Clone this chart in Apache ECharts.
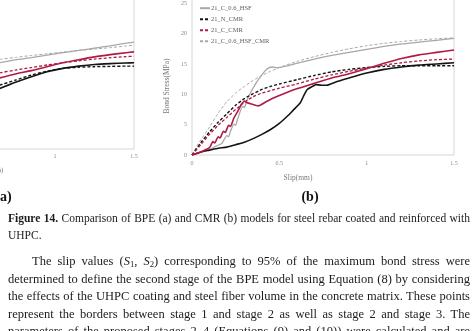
<!DOCTYPE html>
<html>
<head>
<meta charset="utf-8">
<script src="https://cdn.jsdelivr.net/npm/echarts@6/dist/echarts.min.js"></script>
<style>
  html, body { margin: 0; padding: 0; background: #fff; }
  body { width: 474px; height: 331px; overflow: hidden; position: relative; }
  #chart { position: absolute; left: 0; top: 0; width: 474px; height: 331px; }
  .line { position: absolute; left: 8px; width: 462px; height: 18px; line-height: 18px;
          font-family: "Liberation Serif", serif; color: #1c1c1c; white-space: nowrap; }
  .line sub { font-size: 0.7em; line-height: 0; vertical-align: -0.25em; }
</style>
</head>
<body>
<div id="chart"></div>
<div id="caption"></div>
<script>
// Series names (legend order)
const seriesNames = ['21_N', '21_C', '21_C_0.6_HSF', '21_N_CMR', '21_C_CMR', '21_C_0.6_HSF_CMR'];
const bpeNames = ['21_N', '21_N_BPE', '21_C', '21_C_BPE', '21_C_0.6_HSF', '21_C_0.6_HSF_BPE'];

// Axis ticks (slip in mm, bond stress in MPa)
const slipTicks = [0, 0.5, 1, 1.5];
const stressTicks = [0, 5, 10, 15, 20, 25];

// (a) BPE model comparison, right-hand part of the slip range
const bpeSlip = [0.65, 0.75, 0.85, 0.95, 1.05, 1.15, 1.25, 1.35, 1.45, 1.5];
const bpeTestN      = [10.8, 11.9, 12.9, 13.8, 14.4, 14.8, 15.1, 15.25, 15.35, 15.4];
const bpeModelN     = [11.4, 12.3, 13.2, 13.9, 14.4, 14.6, 14.7, 14.75, 14.8, 14.8];
const bpeTestC      = [12.7, 13.4, 14.0, 14.7, 15.4, 15.95, 16.45, 16.85, 17.2, 17.35];
const bpeModelC     = [13.6, 14.1, 14.55, 15.0, 15.4, 15.75, 16.05, 16.3, 16.5, 16.55];
const bpeTestHSF    = [15.4, 15.9, 16.3, 16.75, 17.2, 17.6, 18.0, 18.4, 18.9, 19.1];
const bpeModelHSF   = [16.0, 16.35, 16.7, 17.0, 17.3, 17.6, 17.85, 18.1, 18.4, 18.55];

// (b) CMR model comparison: [slip, stress]
const cmrTestN = [[0,0],[0.05,0.5],[0.1,0.8],[0.15,1.1],[0.2,1.3],[0.25,1.7],[0.3,2.1],[0.35,2.7],
  [0.4,3.4],[0.45,4.2],[0.5,5.2],[0.55,6.5],[0.58,7.4],[0.62,8.6],[0.64,9.8],[0.66,10.8],[0.69,11.3],
  [0.71,11.6],[0.74,11.5],[0.77,11.5],[0.83,12.1],[0.9,12.7],[1.0,13.5],[1.1,14.1],[1.2,14.5],
  [1.3,14.8],[1.4,15.0],[1.5,15.2]];
const cmrTestC = [[0,0],[0.05,0.5],[0.1,1.2],[0.12,2.2],[0.13,2.0],[0.15,3.0],[0.16,2.8],[0.18,3.9],
  [0.19,3.7],[0.21,4.9],[0.22,4.7],[0.24,6.1],[0.26,7.1],[0.28,8.2],[0.3,8.9],[0.31,8.7],[0.34,8.4],
  [0.38,8.1],[0.42,8.7],[0.46,9.3],[0.5,9.8],[0.6,10.9],[0.7,11.8],[0.8,12.7],[0.9,13.4],[1.0,14.2],
  [1.1,15.1],[1.2,15.9],[1.3,16.5],[1.4,16.9],[1.5,17.3]];
const cmrTestHSF = [[0,0],[0.05,0.4],[0.1,0.9],[0.14,1.5],[0.17,1.9],[0.2,3.2],[0.21,3.0],[0.22,3.9],
  [0.24,5.1],[0.25,4.9],[0.26,5.8],[0.29,8.0],[0.3,7.8],[0.31,8.6],[0.33,10.0],[0.37,12.0],[0.4,13.2],
  [0.43,14.2],[0.46,14.5],[0.49,14.4],[0.53,14.6],[0.6,15.1],[0.7,15.8],[0.8,16.4],[0.9,16.9],
  [1.0,17.4],[1.1,17.9],[1.2,18.3],[1.3,18.6],[1.4,18.9],[1.5,19.2]];
const cmrModelN = [[0,0],[0.05,2.0],[0.1,3.8],[0.15,5.4],[0.2,6.8],[0.25,8.2],[0.3,9.3],[0.35,10.1],
  [0.4,10.8],[0.45,11.3],[0.5,11.7],[0.6,12.4],[0.7,13.1],[0.8,13.7],[0.9,14.1],[1.0,14.4],[1.1,14.6],
  [1.2,14.7],[1.3,14.7],[1.4,14.7],[1.5,14.7]];
const cmrModelC = [[0,0],[0.05,1.7],[0.1,3.4],[0.15,4.9],[0.2,6.2],[0.25,7.5],[0.3,8.7],[0.35,9.6],
  [0.4,10.2],[0.45,10.6],[0.5,11.0],[0.6,11.7],[0.7,12.5],[0.8,13.2],[0.9,13.8],[1.0,14.3],[1.1,14.8],
  [1.2,15.2],[1.3,15.5],[1.4,15.7],[1.5,15.8]];
const cmrModelHSF = [[0,0],[0.03,1.6],[0.065,3.1],[0.1,4.6],[0.15,6.9],[0.2,8.8],[0.25,10.2],[0.3,11.3],
  [0.35,12.3],[0.4,13.1],[0.45,13.8],[0.5,14.4],[0.6,15.4],[0.7,16.2],[0.8,16.9],[0.9,17.5],[1.0,18.0],
  [1.1,18.4],[1.2,18.7],[1.3,18.95],[1.4,19.15],[1.5,19.3]];

// Caption and body text, one entry per printed line
const captionLines = [
  '<b>Figure 14.</b> Comparison of BPE (a) and CMR (b) models for steel rebar coated and reinforced with',
  'UHPC.'
];
const bodyLines = [
  'The slip values (<i>S</i><sub>1</sub>, <i>S</i><sub>2</sub>) corresponding to 95% of the maximum bond stress were',
  'determined to define the second stage of the BPE model using Equation (8) by considering',
  'the effects of the UHPC coating and steel fiber volume in the concrete matrix. These points',
  'represent the borders between stage 1 and stage 2 as well as stage 2 and stage 3. The',
  'parameters of the proposed stages 2–4 (Equations (9) and (10)) were calculated and are'
];

const GREY = '#a8a8a8', BLACK = '#141414', RED = '#b11a44';
const styles = [
  { color: BLACK, width: 1.6, type: 'solid' },
  { color: RED, width: 1.6, type: 'solid' },
  { color: GREY, width: 1.3, type: 'solid' },
  { color: BLACK, width: 1.4, type: [3, 2] },
  { color: RED, width: 1.3, type: [3, 2] },
  { color: GREY, width: 1.0, type: [3, 2] }
];
const zOrder = [3, 4, 2, 3, 3, 1];

const pair = (xs, ys) => xs.map((x, i) => [x, ys[i]]);
const bpeData = [
  pair(bpeSlip, bpeTestN), pair(bpeSlip, bpeModelN),
  pair(bpeSlip, bpeTestC), pair(bpeSlip, bpeModelC),
  pair(bpeSlip, bpeTestHSF), pair(bpeSlip, bpeModelHSF)
];
// test curves solid, model curves dashed
const bpeStyle = [styles[0], styles[3], styles[1], styles[4], styles[2], styles[5]];
const cmrData = [cmrTestN, cmrTestC, cmrTestHSF, cmrModelN, cmrModelC, cmrModelHSF];

const axisFont = { fontFamily: 'Liberation Serif', fontSize: 6, color: '#8a8a8a' };
const tickFmt = v => (slipTicks.indexOf(v) >= 0 ? String(v) : '');

function lineSeries(name, data, st, xi, z) {
  return {
    type: 'line', name: name, data: data, xAxisIndex: xi, yAxisIndex: xi,
    symbol: 'none', smooth: 0.2, z: z, silent: true,
    lineStyle: { color: st.color, width: st.width, type: st.type },
    itemStyle: { color: st.color }
  };
}

const chart = echarts.init(document.getElementById('chart'), null, { renderer: 'canvas' });
chart.setOption({
  animation: false,
  backgroundColor: '#fff',
  grid: [
    { left: -103, top: -19, width: 237, height: 168, outerBoundsMode: 'none', containLabel: false,
      show: true, borderColor: '#d6d6d6', borderWidth: 1 },
    { left: 192, top: -27.1, width: 262, height: 182.1, outerBoundsMode: 'none', containLabel: false,
      show: true, borderColor: '#d6d6d6', borderWidth: 1 }
  ],
  xAxis: [
    { type: 'value', gridIndex: 0, min: 0, max: 1.5, interval: 0.5,
      axisLine: { show: false }, axisTick: { show: false }, splitLine: { show: false },
      axisLabel: Object.assign({ margin: 4, formatter: tickFmt }, axisFont) },
    { type: 'value', gridIndex: 1, min: 0, max: 1.5, interval: 0.5,
      axisLine: { show: false }, axisTick: { show: false }, splitLine: { show: false },
      axisLabel: Object.assign({ margin: 5, formatter: tickFmt }, axisFont) }
  ],
  yAxis: [
    { type: 'value', gridIndex: 0, min: 0, max: 30, interval: 5,
      axisLine: { show: false }, axisTick: { show: false }, splitLine: { show: false },
      axisLabel: { show: false } },
    { type: 'value', gridIndex: 1, min: 0, max: 30, interval: 5,
      axisLine: { show: false }, axisTick: { show: false }, splitLine: { show: false },
      axisLabel: Object.assign({ margin: 5,
        formatter: v => (stressTicks.indexOf(v) >= 0 ? String(v) : '') }, axisFont) }
  ],
  legend: {
    data: seriesNames, orient: 'vertical', left: 199, top: -17.3,
    itemWidth: 10, itemHeight: 6, itemGap: 4, padding: 0, selectedMode: false,
    itemStyle: { opacity: 0 },
    textStyle: { fontFamily: 'Liberation Serif', fontSize: 6.5, color: '#606060', padding: [0, 0, 0, -4] }
  },
  series: [
    ...bpeNames.map((n, i) => lineSeries(n, bpeData[i], bpeStyle[i], 0, 2)),
    ...seriesNames.map((n, i) => lineSeries(n, cmrData[i], styles[i], 1, zOrder[i]))
  ],
  graphic: [
    { type: 'text', x: 298, y: 178, silent: true,
      style: { text: 'Slip(mm)', fontFamily: 'Liberation Serif', fontSize: 7.5, fill: '#7a7a7a', align: 'center', verticalAlign: 'middle' } },
    { type: 'text', x: -10, y: 170, silent: true,
      style: { text: 'Slip(mm)', fontFamily: 'Liberation Serif', fontSize: 7, fill: '#7a7a7a', align: 'center', verticalAlign: 'middle' } },
    { type: 'text', x: 167, y: 86, rotation: Math.PI / 2, silent: true,
      style: { text: 'Bond Stress(MPa)', fontFamily: 'Liberation Serif', fontSize: 7.5, fill: '#7a7a7a', align: 'center', verticalAlign: 'middle' } },
    { type: 'text', x: 310, y: 197, silent: true,
      style: { text: '(b)', fontFamily: 'Liberation Serif', fontWeight: 'bold', fontSize: 14, fill: '#111', align: 'center', verticalAlign: 'middle' } },
    { type: 'text', x: 3.5, y: 197, silent: true,
      style: { text: '(a)', fontFamily: 'Liberation Serif', fontWeight: 'bold', fontSize: 14, fill: '#111', align: 'center', verticalAlign: 'middle' } }
  ]
});

// Caption and paragraph lines, each justified to the text block width
const holder = document.getElementById('caption');
function addLine(html, centerY, left, width, fontSize, justify) {
  const el = document.createElement('div');
  el.className = 'line';
  el.innerHTML = html;
  el.style.left = left + 'px';
  el.style.top = (centerY - 9) + 'px';
  el.style.fontSize = fontSize + 'px';
  el.style.width = 'auto';
  el.style.display = 'inline-block';
  holder.appendChild(el);
  let fs = fontSize;
  while (el.getBoundingClientRect().width > width && fs > 6) {
    fs -= 0.1;
    el.style.fontSize = fs + 'px';
  }
  el.style.display = 'block';
  el.style.width = width + 'px';
  if (justify) {
    el.style.whiteSpace = 'normal';
    el.style.textAlign = 'justify';
    el.style.textAlignLast = 'justify';
  }
}
addLine(captionLines[0], 218, 8, 462, 11.5, true);
addLine(captionLines[1], 235, 8, 462, 11.5, false);
const bodyY = [261, 278.5, 296, 313.5, 331];
bodyLines.forEach((t, i) => addLine(t, bodyY[i], i === 0 ? 32 : 8, i === 0 ? 438 : 462, 12.5, true));
</script>
</body>
</html>
